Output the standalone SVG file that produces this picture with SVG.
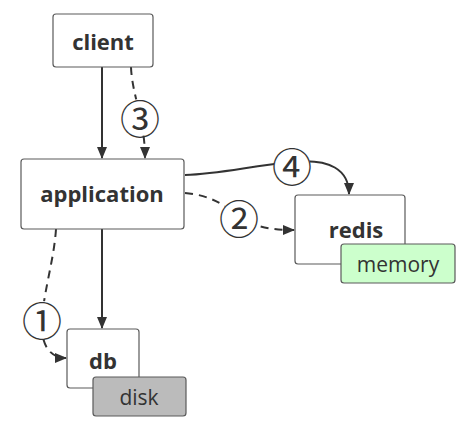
<svg xmlns="http://www.w3.org/2000/svg" width="463" height="423" viewBox="0 0 463 423">
<style>
.box{fill:#ffffff;stroke:#5a5a5a;stroke-width:1.2}
.lbl{font-family:"Open Sans","Noto Sans",sans-serif;font-weight:bold;font-size:22px;fill:#333;text-anchor:middle;dominant-baseline:central}
.sub{font-family:"Open Sans","Noto Sans",sans-serif;font-size:21px;fill:#333;text-anchor:middle;dominant-baseline:central}
.ln{fill:none;stroke:#333;stroke-width:2}
.dash{stroke-dasharray:8 6}
.num{font-family:"Noto Sans CJK SC",sans-serif;font-size:40px;fill:#333;text-anchor:middle;dominant-baseline:central}
.bg{fill:#fff}
</style>
<defs>
<marker id="arr" markerUnits="userSpaceOnUse" markerWidth="12" markerHeight="10" refX="11" refY="5" orient="auto">
<path d="M0,0 L12,5 L0,10 z" fill="#333"/>
</marker>
</defs>
<g id="connectors">
<path class="ln" d="M102,67 L102,158" marker-end="url(#arr)"/>
<path class="ln dash" d="M131,67 C132,95 145,120 145,158" marker-end="url(#arr)"/>
<path class="ln" d="M102,229 L102,328" marker-end="url(#arr)"/>
<path class="ln" d="M185,175 C220,174 250,166 292,162 C330,158 349,170 349,194" marker-end="url(#arr)"/>
<path class="ln dash" d="M185,193 C210,195 225,205 239,217 C255,228 275,230 294,230" marker-end="url(#arr)"/>
<path class="ln dash" d="M56,229 C54,260 44,290 42,319 C40,345 50,358 66,358" marker-end="url(#arr)"/>
<g id="label1"><circle class="bg" cx="42" cy="319" r="18"/><text class="num" x="42" y="319">①</text></g>
<g id="label2"><circle class="bg" cx="239" cy="217" r="18"/><text class="num" x="239" y="217">②</text></g>
<g id="label3"><circle class="bg" cx="140" cy="117" r="18"/><text class="num" x="140" y="117">③</text></g>
<g id="label4"><circle class="bg" cx="292" cy="165" r="18"/><text class="num" x="292" y="165">④</text></g>
</g>
<g id="client"><rect class="box" x="53" y="14" width="100" height="53" rx="3"/><text class="lbl" x="103" y="41">client</text></g>
<g id="application"><rect class="box" x="21" y="159" width="163" height="70" rx="3"/><text class="lbl" x="102" y="193">application</text></g>
<g id="redis"><rect class="box" x="295" y="195" width="110" height="69" rx="3"/><text class="lbl" x="356" y="229">redis</text></g>
<g id="memory"><rect x="341" y="244" width="114" height="39" rx="3" fill="#ccffcc" stroke="#5a5a5a" stroke-width="1.2"/><text class="sub" x="398" y="264">memory</text></g>
<g id="db"><rect class="box" x="67" y="329" width="72" height="59" rx="3"/><text class="lbl" x="103" y="360">db</text></g>
<g id="disk"><rect x="93" y="377" width="93" height="39" rx="3" fill="#bbbbbb" stroke="#5a5a5a" stroke-width="1.2"/><text class="sub" x="139" y="397">disk</text></g>
</svg>
